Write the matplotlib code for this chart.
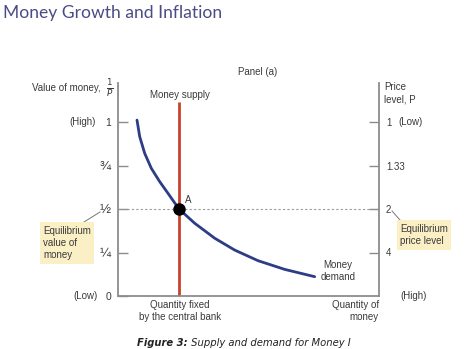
import matplotlib.pyplot as plt
import numpy as np

plt.rcParams.update({'font.family': ['Liberation Sans', 'DejaVu Sans'], 'font.size': 7})

# Money demand curve (quantity of money, value of money 1/P)
demand_q = [0.728, 0.831, 1.023, 1.276, 1.598, 1.916, 2.337, 2.939, 3.705, 4.471, 5.364, 6.387, 7.536]
demand_v = [1.011, 0.916, 0.820, 0.734, 0.657, 0.590, 0.500, 0.418, 0.332, 0.264, 0.203, 0.153, 0.111]

# Money supply (fixed quantity)
supply_q = 2.337
supply_top = 1.115

# Equilibrium
eq_q, eq_v = 2.337, 0.5

# Axis ticks
value_ticks = [0, 0.25, 0.5, 0.75, 1.0]
value_labels = ['0', '\u00bc', '\u00bd', '\u00be', '1']
price_ticks = [0.25, 0.5, 0.75, 1.0]
price_labels = ['4', '2', '1.33', '1']

TXT = '#3a3a3a'
SPINE = '#8c8c8c'
BOX = '#fbefc6'

fig = plt.figure(figsize=(4.74, 3.49), dpi=100)
ax = fig.add_axes([118 / 474, 1 - 296 / 349, (379 - 118) / 474, (296 - 83) / 349])
ax.set_xlim(0, 10)
ax.set_ylim(0, (296 - 83) / 174)

for s in ['left', 'bottom', 'right']:
    ax.spines[s].set_color(SPINE)
    ax.spines[s].set_linewidth(1.3)
ax.spines['top'].set_visible(False)

ax.set_xticks([])
ax.set_yticks(value_ticks)
ax.set_yticklabels(value_labels, color=TXT)
for lab in ax.get_yticklabels():
    lab.set_fontsize(7.5 if lab.get_text() in ('0', '1') else 9.5)
ax.tick_params(axis='y', direction='in', length=7, width=1, color=SPINE, pad=5)

ax2 = ax.twinx()
ax2.set_ylim(ax.get_ylim())
ax2.set_yticks(price_ticks)
ax2.set_yticklabels(price_labels, color=TXT)
ax2.tick_params(axis='y', direction='in', length=7, width=1, color=SPINE, pad=5)
for s in ['left', 'bottom', 'right', 'top']:
    ax2.spines[s].set_visible(False)

# curves
ax.axhline(eq_v, color='#9a9a9a', lw=0.8, ls=(0, (2, 2)))
ax.plot([supply_q, supply_q], [0, supply_top], color='#c8432b', lw=2, solid_capstyle='butt')
ax.plot(demand_q, demand_v, color='#2c3d86', lw=2, solid_capstyle='round')
ax.plot(eq_q, eq_v, 'o', color='black', markersize=8, zorder=5)


def px(x, y):
    return ((x - 118) / 26.1, (296 - y) / 174)


def txt(x, y, s, **kw):
    kw.setdefault('color', TXT)
    ax.text(*px(x, y), s, clip_on=False, **kw)


txt(258, 72, 'Panel (a)', ha='center', va='center')
txt(101, 88, 'Value of money,', ha='right', va='center')
txt(110, 88, r'$\frac{1}{P}$', ha='center', va='center', fontsize=9)
txt(180, 95, 'Money supply', ha='center', va='center')
txt(96, 122, '(High)', ha='right', va='center')
txt(98, 296, '(Low)', ha='right', va='center')
txt(384, 93, 'Price\nlevel, P', ha='left', va='center', linespacing=1.3)
txt(398, 122, '(Low)', ha='left', va='center')
txt(400, 296, '(High)', ha='left', va='center')
txt(185, 200, 'A', ha='left', va='center')
txt(338, 271, 'Money\ndemand', ha='center', va='center', linespacing=1.3)
txt(180, 311, 'Quantity fixed\nby the central bank', ha='center', va='center', linespacing=1.3)
txt(379, 311, 'Quantity of\nmoney', ha='right', va='center', linespacing=1.3)

txt(43, 243, 'Equilibrium\nvalue of\nmoney', ha='left', va='center', linespacing=1.3,
    bbox=dict(boxstyle='square,pad=0.35', fc=BOX, ec='none'))
txt(400, 235, 'Equilibrium\nprice level', ha='left', va='center', linespacing=1.3,
    bbox=dict(boxstyle='square,pad=0.35', fc=BOX, ec='none'))

x0, y0 = px(84, 222)
x1, y1 = px(100, 212)
ax.plot([x0, x1], [y0, y1], color='#777777', lw=0.7, clip_on=False)
x0, y0 = px(392, 211)
x1, y1 = px(400, 220)
ax.plot([x0, x1], [y0, y1], color='#777777', lw=0.7, clip_on=False)

fig.text(0.006, 1 - 13 / 349, 'Money Growth and Inflation', fontsize=12.6, color='#4b4b85',
         family=['Lato', 'DejaVu Sans'], ha='left', va='center')

t1 = fig.text(137 / 474, 1 - 343 / 349, 'Figure 3:', fontsize=7.2, fontweight='bold',
              style='italic', family=['DejaVu Sans'], color='#222222', ha='left', va='center')
ax.annotate(' Supply and demand for Money I', xy=(1, 0), xycoords=t1, ha='left', va='bottom',
            fontsize=7.2, style='italic', family=['DejaVu Sans'], color='#222222',
            annotation_clip=False)

fig.savefig('out.png', dpi=100)
